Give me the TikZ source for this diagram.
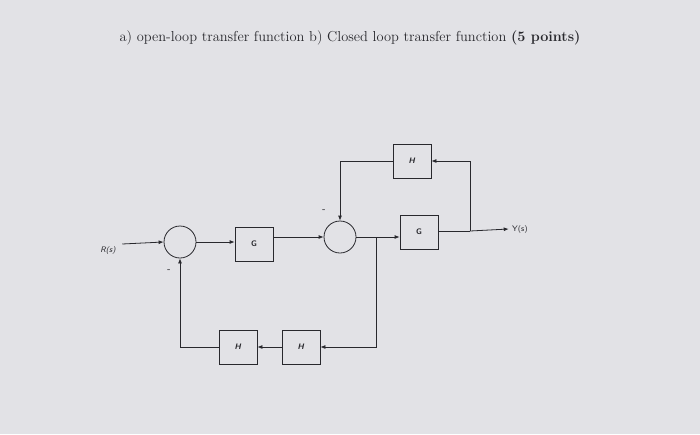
\documentclass[tikz,border=0pt]{standalone}
\usetikzlibrary{arrows.meta}
\definecolor{paper}{RGB}{226,226,230}
\definecolor{ink}{RGB}{40,40,45}
\begin{document}
\begin{tikzpicture}[x=1pt,y=-1pt,
  blk/.style={draw=ink,line width=0.8pt,minimum width=38pt,minimum height=34pt,font=\sffamily\bfseries\footnotesize,text=ink,inner sep=0pt},
  sumj/.style={draw=ink,line width=0.8pt,circle,minimum size=32pt,inner sep=0pt},
  con/.style={draw=ink,line width=0.8pt},
  arr/.style={con,-{Latex[length=5pt,width=4pt]}},
  lbl/.style={font=\sffamily\footnotesize,text=ink}]
\fill[paper] (0,0) rectangle (700,434);
\useasboundingbox (0,0) rectangle (700,434);
\node[font=\Large,text=ink] (title) at (350,38) {a) open-loop transfer function b) Closed loop transfer function \textbf{(5 points)}};
\node[lbl] (R) at (108,250) {\textit{R(s)}};
\node[sumj] (s1) at (180,242) {};
\node[blk] (G1) at (254,244) {G};
\node[sumj] (s2) at (340,237) {};
\node[blk] (G2) at (419,232) {G};
\node[blk] (H1) at (412,161) {\textit{H}};
\node[blk] (H2) at (301,347) {\textit{H}};
\node[blk] (H3) at (238,347) {\textit{H}};
\node[lbl] (Y) at (520,229) {Y(s)};
\coordinate (tap) at (470,231);
\coordinate (tap2) at (376,237);
\draw[arr] (R.east) ++(3,-6) -- (s1.west);
\draw[arr] (s1.east) -- (G1.west|-s1.east);
\draw[arr] (G1.east|-s2) -- (s2.west);
\draw[arr] (s2.east) -- (G2.west|-s2.east);
\draw[con] (G2.east|-tap) -- (tap);
\draw[arr] (tap) -- (Y.west);
\draw[arr] (tap) |- (H1.east);
\draw[arr] (H1.west) -| (s2.north);
\draw[arr] (tap2) |- (H2.east);
\draw[arr] (H2.west) -- (H3.east);
\draw[arr] (H3.west) -| (s1.south);
\node[lbl,font=\sffamily\bfseries] (m1) at (324,211) {-};
\node[lbl,font=\sffamily\bfseries] (m2) at (169,271) {-};
\end{tikzpicture}
\end{document}
